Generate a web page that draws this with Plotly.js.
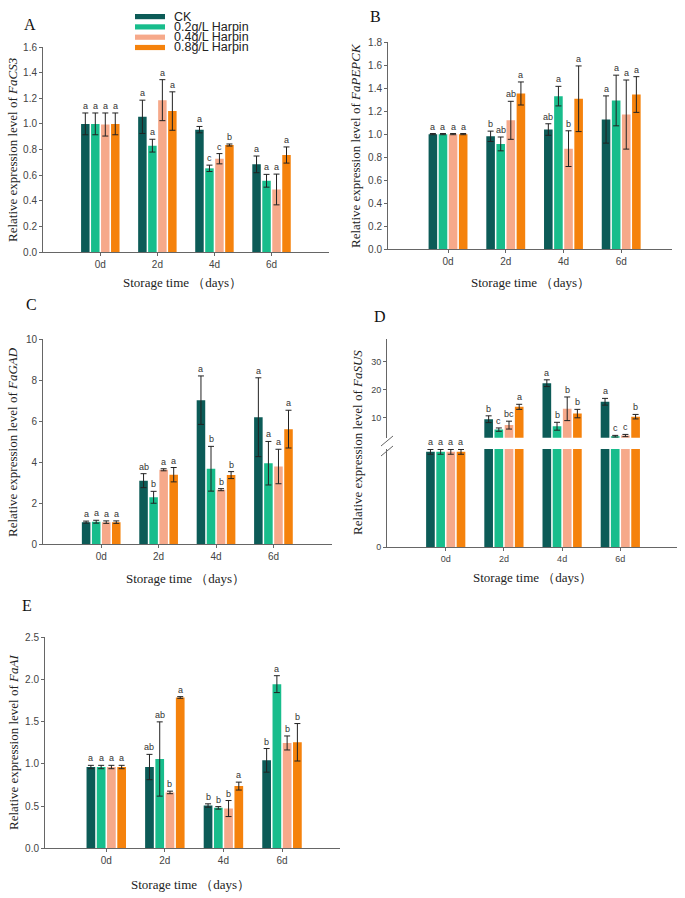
<!DOCTYPE html>
<html>
<head>
<meta charset="utf-8">
<script src="https://cdn.plot.ly/plotly-3.0.1.min.js"></script>
<style>html,body{margin:0;padding:0;background:#fff;}#chart{width:685px;height:898px;}</style>
</head>
<body>
<div id="chart"></div>
<script>
// ---------------- DATA ----------------
const categories = ['0d', '2d', '4d', '6d'];
const seriesNames = ['CK', '0.2g/L Harpin', '0.4g/L Harpin', '0.8g/L Harpin'];
const colors = ['#0c5b57', '#18bd8c', '#f6a98a', '#f5820c'];
const xTitle = 'Storage time （days）';

// Panel A: FaCS3 (rows: CK, 0.2, 0.4, 0.8)
const csMean = [[1.00, 1.055, 0.955, 0.684], [1.00, 0.83, 0.653, 0.556], [0.995, 1.185, 0.728, 0.488], [1.00, 1.10, 0.835, 0.757]];
const csErr = [[0.085, 0.13, 0.025, 0.065], [0.085, 0.05, 0.025, 0.05], [0.09, 0.16, 0.04, 0.12], [0.085, 0.15, 0.008, 0.063]];
const csSig = [['a', 'a', 'a', 'a'], ['a', 'a', 'c', 'a'], ['a', 'a', 'c', 'a'], ['a', 'a', 'b', 'a']];

// Panel B: FaPEPCK
const pepckMean = [[1.00, 0.981, 1.04, 1.127], [1.00, 0.915, 1.33, 1.292], [1.00, 1.12, 0.874, 1.17], [1.00, 1.353, 1.307, 1.344]];
const pepckErr = [[0.005, 0.045, 0.05, 0.205], [0.005, 0.06, 0.085, 0.22], [0.005, 0.165, 0.155, 0.30], [0.005, 0.10, 0.285, 0.155]];
const pepckSig = [['a', 'b', 'ab', 'a'], ['a', 'ab', 'a', 'a'], ['a', 'ab', 'b', 'a'], ['a', 'a', 'a', 'a']];

// Panel C: FaGAD
const gadMean = [[1.08, 3.10, 7.02, 6.19], [1.10, 2.29, 3.68, 3.95], [1.08, 3.63, 2.66, 3.79], [1.08, 3.39, 3.37, 5.61]];
const gadErr = [[0.05, 0.34, 1.18, 1.92], [0.07, 0.29, 1.09, 1.06], [0.06, 0.05, 0.05, 0.84], [0.06, 0.35, 0.17, 0.92]];
const gadSig = [['a', 'ab', 'a', 'a'], ['a', 'b', 'b', 'a'], ['a', 'a', 'b', 'a'], ['a', 'a', 'b', 'a']];

// Panel D: FaSUS (broken axis)
const susMean = [[1.00, 9.5, 22.3, 15.7], [1.00, 5.8, 7.0, 3.45], [1.00, 7.4, 13.2, 3.7], [1.00, 13.9, 11.5, 10.4]];
const susErr = [[0.025, 1.2, 1.2, 1.2], [0.025, 0.6, 1.4, 0.3], [0.025, 1.4, 4.2, 0.4], [0.025, 0.9, 1.5, 0.8]];
const susSig = [['a', 'b', 'a', 'a'], ['a', 'c', 'b', 'c'], ['a', 'bc', 'b', 'c'], ['a', 'a', 'b', 'b']];

// Panel E: FaAI
const aiMean = [[0.963, 0.963, 0.507, 1.042], [0.963, 1.058, 0.479, 1.945], [0.963, 0.662, 0.471, 1.248], [0.963, 1.787, 0.737, 1.256]];
const aiErr = [[0.02, 0.15, 0.02, 0.14], [0.02, 0.44, 0.015, 0.10], [0.02, 0.015, 0.095, 0.083], [0.02, 0.01, 0.047, 0.222]];
const aiSig = [['a', 'ab', 'b', 'b'], ['a', 'ab', 'b', 'a'], ['a', 'b', 'b', 'b'], ['a', 'a', 'a', 'b']];

// ---------------- LAYOUT HELPERS ----------------
const W = 685, H = 898;
const px = v => v / W;
const py = v => 1 - v / H;
const BARGAP = 0.30;
const slot = (1 - BARGAP) / 4;
const offs = [0, 1, 2, 3].map(i => -(1 - BARGAP) / 2 + (i + 0.5) * slot);

const serif = 'Liberation Serif, Times New Roman, serif';
const sans = 'Liberation Sans, Arial, sans-serif';

const traces = [];
const annotations = [];
const shapes = [];
const layout = {
  width: W, height: H,
  margin: {l: 0, r: 0, t: 0, b: 0},
  paper_bgcolor: '#fff', plot_bgcolor: 'rgba(0,0,0,0)',
  barmode: 'group', bargap: BARGAP, bargroupgap: 0.15,
  showlegend: false,
  annotations: annotations, shapes: shapes,
  font: {family: sans, color: '#333'}
};

function axisStyle(extra, fs) {
  return Object.assign({
    showline: true, linecolor: '#666', linewidth: 1,
    ticks: 'outside', ticklen: 3, tickcolor: '#666', tickwidth: 1,
    tickfont: {family: sans, size: fs || 10, color: '#444'},
    showgrid: false, zeroline: false, automargin: false, fixedrange: true
  }, extra);
}

function addBars(mean, err, xa, ya) {
  for (let s = 0; s < 4; s++) {
    traces.push({
      type: 'bar', x: categories, y: mean[s], name: seriesNames[s],
      xaxis: xa, yaxis: ya,
      marker: {color: colors[s], line: {width: 0}},
      error_y: {type: 'data', array: err[s], visible: true, color: '#222', thickness: 1, width: 3},
      hoverinfo: 'skip'
    });
  }
}

function addSig(mean, err, sig, xa, yaFn, fs) {
  for (let s = 0; s < 4; s++) {
    for (let c = 0; c < categories.length; c++) {
      const top = mean[s][c] + err[s][c];
      annotations.push({
        xref: xa, yref: yaFn(mean[s][c]), x: c + offs[s], y: top,
        text: sig[s][c], showarrow: false, xanchor: 'center', yanchor: 'bottom',
        yshift: 0, font: {family: sans, size: fs || 9, color: '#333'}
      });
    }
  }
}

function addTitles(letter, lx, ly, gene, ytx, yty, xcx, xty) {
  annotations.push({xref: 'paper', yref: 'paper', x: px(lx), y: py(ly), text: letter, showarrow: false,
    xanchor: 'center', yanchor: 'middle', font: {family: serif, size: 16, color: '#111'}});
  annotations.push({xref: 'paper', yref: 'paper', x: px(ytx), y: py(yty), text: 'Relative expression level of <i>' + gene + '</i>',
    showarrow: false, textangle: -90, xanchor: 'center', yanchor: 'middle', font: {family: serif, size: 13, color: '#222'}});
  annotations.push({xref: 'paper', yref: 'paper', x: px(xcx), y: py(xty), text: xTitle,
    showarrow: false, xanchor: 'center', yanchor: 'middle', font: {family: serif, size: 13, color: '#222'}});
}

// Panel A
layout.xaxis = axisStyle({domain: [px(43), px(329)], range: [-1.004, 4.007], anchor: 'y', type: 'category', categoryarray: categories});
layout.yaxis = axisStyle({domain: [py(252), py(47)], range: [0, 1.6], dtick: 0.2, tickformat: '.1f', anchor: 'x'});
addBars(csMean, csErr, 'x', 'y');
addSig(csMean, csErr, csSig, 'x', () => 'y');
addTitles('A', 30, 25, 'FaCS3', 12, 150, 183, 283);

// Panel B
layout.xaxis2 = axisStyle({domain: [px(388), px(672)], range: [-1.04, 3.88], anchor: 'y2', type: 'category', categoryarray: categories});
layout.yaxis2 = axisStyle({domain: [py(249.3), py(42)], range: [0, 1.8], dtick: 0.2, tickformat: '.1f', anchor: 'x2'});
addBars(pepckMean, pepckErr, 'x2', 'y2');
addSig(pepckMean, pepckErr, pepckSig, 'x2', () => 'y2');
addTitles('B', 375, 17, 'FaPEPCK', 355, 146, 530, 283);

// Panel C
layout.xaxis3 = axisStyle({domain: [px(43), px(332)], range: [-1.014, 4.02], anchor: 'y3', type: 'category', categoryarray: categories});
layout.yaxis3 = axisStyle({domain: [py(544.3), py(339)], range: [0, 10], dtick: 2, anchor: 'x3'});
addBars(gadMean, gadErr, 'x3', 'y3');
addSig(gadMean, gadErr, gadSig, 'x3', () => 'y3');
addTitles('C', 32, 305, 'FaGAD', 12, 442, 185, 578);

// Panel D (broken y axis: lower y4, upper y5)
const dLowerRange = [0, 1.03];
const dUpperRange = [2.93, 37.9];
layout.xaxis4 = axisStyle({domain: [px(387), px(677)], range: [-1.009, 3.974], anchor: 'y4', type: 'category', categoryarray: categories}, 9);
layout.yaxis4 = axisStyle({domain: [py(547.3), py(449)], range: dLowerRange, tickvals: [0], anchor: 'x4'}, 9);
layout.yaxis5 = axisStyle({domain: [py(437.7), py(339.3)], range: dUpperRange, tickvals: [10, 20, 30], anchor: 'x4'}, 9);
addBars(susMean, susErr, 'x4', 'y4');
addBars(susMean, susErr, 'x4', 'y5');
addSig(susMean, susErr, susSig, 'x4', v => (v < dUpperRange[0] ? 'y4' : 'y5'));
addTitles('D', 380, 317, 'FaSUS', 357, 443, 532, 577);
// axis break marks
shapes.push({type: 'line', xref: 'paper', yref: 'paper', x0: px(381), y0: py(446), x1: px(393), y1: py(436), line: {color: '#666', width: 1}});
shapes.push({type: 'line', xref: 'paper', yref: 'paper', x0: px(381), y0: py(456), x1: px(393), y1: py(446), line: {color: '#666', width: 1}});

// Panel E
layout.xaxis5 = axisStyle({domain: [px(45), px(340)], range: [-1.046, 3.99], anchor: 'y6', type: 'category', categoryarray: categories});
layout.yaxis6 = axisStyle({domain: [py(848.3), py(637.3)], range: [0, 2.5], dtick: 0.5, tickformat: '.1f', anchor: 'x5'});
addBars(aiMean, aiErr, 'x5', 'y6');
addSig(aiMean, aiErr, aiSig, 'x5', () => 'y6');
addTitles('E', 27, 605, 'FaAI', 13, 743, 190, 884);

// Legend (drawn in panel A's top area)
const legY = [16.6, 26.9, 37.2, 47.5];
for (let s = 0; s < 4; s++) {
  shapes.push({type: 'rect', xref: 'paper', yref: 'paper', x0: px(135), x1: px(165), y0: py(legY[s] + 2.6), y1: py(legY[s] - 2.6),
    fillcolor: colors[s], line: {width: 0}});
  annotations.push({xref: 'paper', yref: 'paper', x: px(172), y: py(legY[s]), text: seriesNames[s], showarrow: false,
    xanchor: 'left', yanchor: 'middle', font: {family: sans, size: 12.5, color: '#222'}});
}

Plotly.newPlot('chart', traces, layout, {staticPlot: true, displayModeBar: false});
</script>
</body>
</html>
